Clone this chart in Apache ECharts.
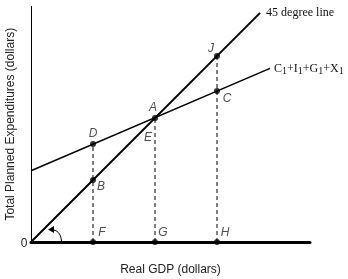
<!DOCTYPE html>
<html><head><meta charset="utf-8">
<script src="https://cdn.jsdelivr.net/npm/echarts@6/dist/echarts.min.js"></script>
<style>html,body{margin:0;padding:0;background:#fff}#c{width:348px;height:279px}</style>
</head><body><div id="c"></div>
<script>
// ---- data (in axis units) ----
const xMax = 9;
const yMax = 7.6;
const line45 = [[0, 0], [7.39, 7.39]];
const aeLine = [[0, 2.3], [7.71, 5.6]];
const pointNames = ['D', 'B', 'A', 'J', 'C', 'F', 'G', 'H'];
const pointValues = [[2, 3.16], [2, 2], [4, 4], [6, 6], [6, 4.87], [2, 0], [4, 0], [6, 0]];
const dropLines = [[[2, 0], [2, 3.16]], [[4, 0], [4, 4]], [[6, 0], [6, 6]]];
const extraLabelName = 'E';
const extraLabelAt = [4, 4];
const label45 = '45 degree line';
const aeLabelParts = ['C', '1', '+I', '1', '+G', '1', '+X', '1'];
const xTitle = 'Real GDP (dollars)';
const yTitle = 'Total Planned Expenditures (dollars)';
const originLabel = '0';

// ---- styles ----
const offsets = { D: [0, -10], B: [8, 7], A: [-2, -10], J: [-6, -7], C: [10, 8], F: [9, -9], G: [8, -9], H: [8, -9], E: [-7, 20] };
const letterFont = { fontFamily: 'Liberation Sans, Arial, sans-serif', fontStyle: 'italic', fontSize: 12, color: '#222' };

const chart = echarts.init(document.getElementById('c'), null, { renderer: 'canvas' });

const series = [];
dropLines.forEach(d => series.push({
  type: 'line', data: d, symbol: 'none', silent: true,
  lineStyle: { color: '#000', width: 1, type: [4, 3] }, z: 1
}));
series.push({ type: 'line', data: line45, symbol: 'none', lineStyle: { color: '#000', width: 2 }, z: 3,
  endLabel: { show: true, formatter: label45, distance: 6, fontFamily: 'Liberation Serif, Times New Roman, serif', fontSize: 12, color: '#111' } });
const rich = { n: { fontFamily: 'Liberation Serif, Times New Roman, serif', fontSize: 12, color: '#111' },
               s: { fontFamily: 'Liberation Serif, Times New Roman, serif', fontSize: 10, color: '#111', padding: [5, 0, 0, 0] } };
series.push({ type: 'line', data: aeLine, symbol: 'none', lineStyle: { color: '#000', width: 1.5 }, z: 3,
  endLabel: { show: true, distance: 4, rich,
    formatter: aeLabelParts.map((p, i) => (i % 2 ? '{s|' + p + '}' : '{n|' + p + '}')).join('') } });
series.push({
  type: 'scatter', z: 5, symbolSize: 6, itemStyle: { color: '#000' },
  data: pointNames.map((n, i) => ({ name: n, value: pointValues[i],
    label: { show: true, position: 'inside', formatter: n, offset: offsets[n], ...letterFont } }))
});
series.push({
  type: 'scatter', z: 5, symbolSize: 0,
  data: [{ name: extraLabelName, value: extraLabelAt,
    label: { show: true, position: 'inside', formatter: extraLabelName, offset: offsets[extraLabelName], ...letterFont } }]
});

chart.setOption({
  animation: false,
  grid: { left: 31, right: 38, top: 6.4, bottom: 37, containLabel: false, outerBoundsMode: 'none' },
  xAxis: { type: 'value', min: 0, max: xMax, name: xTitle, nameLocation: 'middle', nameGap: 22,
    nameTextStyle: { fontFamily: 'Liberation Sans, Arial, sans-serif', fontSize: 12, color: '#222' },
    axisLine: { show: true, onZero: false, lineStyle: { color: '#000', width: 3 } },
    axisTick: { show: false }, axisLabel: { show: false }, splitLine: { show: false } },
  yAxis: { type: 'value', min: 0, max: yMax, name: yTitle, nameLocation: 'middle', nameGap: 14,
    nameTextStyle: { fontFamily: 'Liberation Sans, Arial, sans-serif', fontSize: 12, color: '#222' },
    axisLine: { show: true, onZero: false, lineStyle: { color: '#000', width: 1 } },
    axisTick: { show: false }, axisLabel: { show: false }, splitLine: { show: false } },
  series
});

// annotation: origin "0" and 45° angle arc with arrow, positioned from the axes
const o = chart.convertToPixel({ gridIndex: 0 }, [0, 0]);
chart.setOption({
  graphic: [
    { type: 'text', x: o[0] - 7, y: o[1] + 2, style: { text: originLabel, fontFamily: 'Liberation Sans, Arial, sans-serif', fontSize: 12, fill: '#222', align: 'center', verticalAlign: 'middle' } },
    { type: 'bezierCurve', shape: { x1: o[0] + 30.5, y1: o[1] - 0.5, cpx1: o[0] + 30, cpy1: o[1] - 9, cpx2: o[0] + 26, cpy2: o[1] - 12, x2: o[0] + 20, y2: o[1] - 12.5 },
      style: { stroke: '#000', lineWidth: 1, fill: null } },
    { type: 'polygon', shape: { points: [[o[0] + 17, o[1] - 12.5], [o[0] + 23, o[1] - 16], [o[0] + 23, o[1] - 9]] }, style: { fill: '#000' } }
  ]
});
</script></body></html>
